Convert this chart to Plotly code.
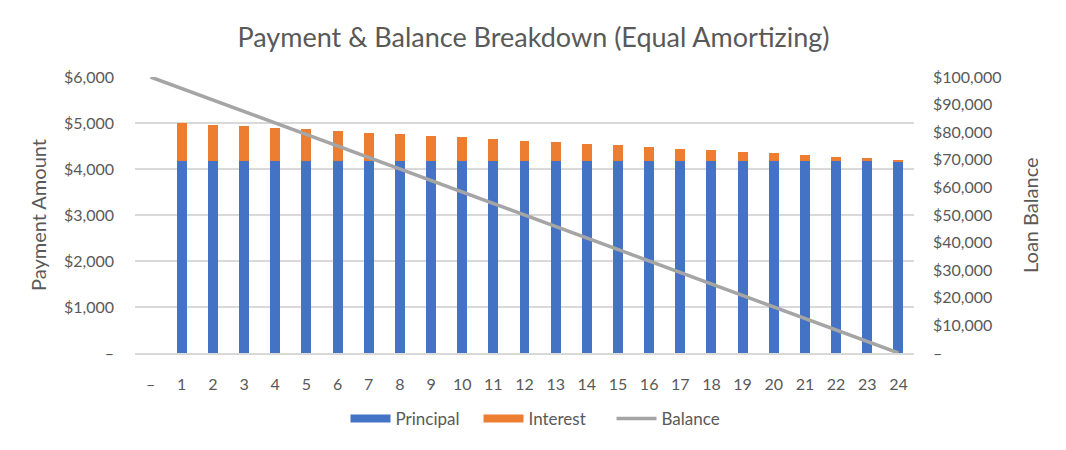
import plotly.graph_objects as go

categories = ["–"] + [str(i) for i in range(1, 25)]
principal = [0] + [4166.67] * 24
interest = [0, 833, 799, 764, 729, 694, 660, 625, 590, 556, 521, 486, 451,
            417, 382, 347, 313, 278, 243, 208, 174, 139, 104, 69, 35]
balance = [100000, 95833, 91667, 87500, 83333, 79167, 75000, 70833, 66667,
           62500, 58333, 54167, 50000, 45833, 41667, 37500, 33333, 29167,
           25000, 20833, 16667, 12500, 8333, 4167, 0]

left_ticks = [0, 1000, 2000, 3000, 4000, 5000, 6000]
left_text = ["–", "$1,000", "$2,000", "$3,000", "$4,000", "$5,000", "$6,000"]
right_ticks = [0, 10000, 20000, 30000, 40000, 50000, 60000, 70000, 80000, 90000, 100000]
right_text = ["–", "$10,000", "$20,000", "$30,000", "$40,000", "$50,000",
              "$60,000", "$70,000", "$80,000", "$90,000", "$100,000"]

FONT = "Lato"
GREY = "#595959"
BLUE, ORANGE, LGREY = "#4472C4", "#ED7D31", "#A5A5A5"
W, H = 1066, 450
OFF = 8  # page body offset
L, T = 135 - OFF, 77 - OFF
R = W - (914 - OFF)
B = H - (353 - OFF)
PW = W - L - R

fig = go.Figure()
fig.add_trace(go.Bar(x=categories, y=principal, name="Principal", showlegend=False,
                     marker=dict(color=BLUE, line_width=0)))
fig.add_trace(go.Bar(x=categories, y=interest, name="Interest", showlegend=False,
                     marker=dict(color=ORANGE, line_width=0)))
fig.add_trace(go.Scatter(x=categories, y=balance, name="Balance", yaxis="y2",
                         mode="lines", showlegend=False,
                         line=dict(color=LGREY, width=3.5)))
# legend-only entries (wide swatches like the original)
fig.add_trace(go.Scatter(x=[None], y=[None], name="Principal", mode="lines",
                         line=dict(color=BLUE, width=8)))
fig.add_trace(go.Scatter(x=[None], y=[None], name="Interest", mode="lines",
                         line=dict(color=ORANGE, width=8)))
fig.add_trace(go.Scatter(x=[None], y=[None], name="Balance", mode="lines",
                         line=dict(color=LGREY, width=3.5)))

fig.update_layout(
    width=W, height=H,
    barmode="stack", bargap=0.68,
    paper_bgcolor="white", plot_bgcolor="white",
    margin=dict(l=L, r=R, t=T, b=B, autoexpand=False),
    font=dict(family=FONT, size=16, color=GREY),
    title=dict(text="Payment & Balance Breakdown (Equal Amortizing)",
               x=(533.5 - OFF) / W, xanchor="center", y=1 - (38 - OFF) / H,
               yanchor="middle", yref="container",
               font=dict(family=FONT, size=27, color=GREY)),
    xaxis=dict(type="category", showgrid=False, showline=True, automargin=False,
               linecolor="#D9D9D9", linewidth=1.5, ticks="",
               ticklabelstandoff=16, tickfont=dict(size=16, color=GREY)),
    yaxis=dict(range=[0, 6000], tickvals=left_ticks, ticktext=left_text,
               showgrid=True, gridcolor="#D9D9D9", gridwidth=1.5, automargin=False,
               zeroline=False, ticks="", ticklabelstandoff=20,
               tickfont=dict(size=16, color=GREY)),
    yaxis2=dict(range=[0, 100000], tickvals=right_ticks, ticktext=right_text,
                overlaying="y", side="right", showgrid=False, zeroline=False,
                ticks="", ticklabelstandoff=18, automargin=False,
                tickfont=dict(size=16, color=GREY)),
    legend=dict(orientation="h", x=(545 - OFF) / W, xanchor="center", xref="container",
                y=1 - (419 - OFF) / H, yanchor="middle", yref="container",
                itemwidth=40, entrywidth=78,
                font=dict(size=17, color=GREY), traceorder="normal"),
    showlegend=True,
    annotations=[
        dict(text="Payment Amount", x=(38 - OFF - L) / PW, xref="paper", y=0.5, yref="paper",
             textangle=-90, showarrow=False, xanchor="center", yanchor="middle",
             font=dict(size=20, color=GREY)),
        dict(text="Loan Balance", x=(1030 - OFF - L) / PW, xref="paper", y=0.5, yref="paper",
             textangle=-90, showarrow=False, xanchor="center", yanchor="middle",
             font=dict(size=20, color=GREY)),
    ],
)

fig.write_html("out.html")
